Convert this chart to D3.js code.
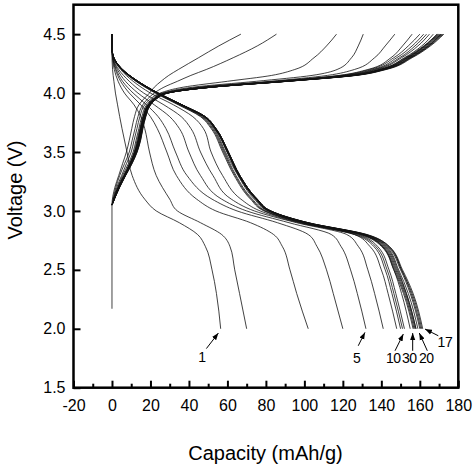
<!DOCTYPE html>
<html>
<head>
<meta charset="utf-8">
<script src="https://cdn.jsdelivr.net/npm/d3@7"></script>
<style>
  body { margin: 0; background: #fff; }
  text { font-family: Arial, "Liberation Sans", sans-serif; fill: #000; }
</style>
</head>
<body>
<svg id="chart" width="474" height="467"></svg>
<script>
// discharge: capacity (mAh/g) read at each voltage level, one row per cycle
var dischargeVoltage = [4.5, 4.35, 4.2, 4.1, 4.0, 3.9, 3.8, 3.7, 3.5, 3.3, 3.1, 3.0, 2.9, 2.8, 2.7, 2.5, 2.3, 2.0];
var dischargeCycles = [1, 2, 3, 4, 5, 6, 7, 8, 9, 10, 12, 14, 16, 17, 18, 20, 22, 24, 26, 28, 30];
var dischargeCapacity = [
  [0, 0, 0.3, 1.0, 1.8, 2.9, 4.0, 5.2, 7.8, 10.5, 17, 23, 35, 44.5, 48.5, 52, 54.3, 56.5],
  [0, 0.1, 1.2, 3.2, 6.5, 11.5, 15, 17, 19.5, 23, 30, 34, 46, 57, 61.3, 63.8, 66.3, 70],
  [0, 0.1, 1.8, 4.5, 9, 15, 20, 23.5, 28.5, 33.5, 44, 54, 72, 84, 88.5, 92.5, 96, 102],
  [0, 0.1, 2.2, 5.5, 11, 18, 24, 28, 33, 39, 52, 65, 86, 102, 106.5, 111.5, 115, 120],
  [0, 0.1, 2.8, 7, 13.5, 22, 30, 35, 40, 46, 57, 70, 92, 114, 119, 124, 127.5, 132],
  [0, 0.1, 3.5, 9, 16.5, 27, 36, 41, 46, 52.5, 62, 74, 96, 122, 128, 133, 136.5, 141],
  [0, 0.2, 4.5, 11, 20, 32, 42, 47.5, 51.5, 57.5, 67, 77, 97, 126, 134, 140, 143.5, 148],
  [0, 0.2, 5, 12.5, 22.5, 34.5, 46, 51.5, 57.5, 63.5, 72, 79, 98, 126, 136, 142, 145.5, 150],
  [0, 0.2, 5, 12.5, 23, 35, 46.5, 52, 58, 64, 72.5, 79.5, 98.5, 127, 137, 143, 146.5, 151],
  [0, 0.2, 5, 13, 23, 35.5, 47, 52.5, 58.5, 64.5, 73, 80, 99, 128, 138, 144, 147.5, 152],
  [0, 0.2, 5.2, 13, 23.5, 36, 47.5, 53, 59, 65.5, 74, 81, 100, 130, 140.5, 146.5, 150.5, 155],
  [0, 0.2, 5.3, 13.3, 23.8, 36.3, 48, 53.5, 60, 66, 75, 82, 101, 131, 142, 148.5, 153, 158],
  [0, 0.2, 5.5, 13.5, 24, 36.5, 48.5, 54, 60.5, 66.5, 75.5, 82.5, 102, 132, 143.5, 150.5, 155.5, 160.5],
  [0, 0.2, 5.5, 13.5, 24, 36.5, 48.5, 54, 60.5, 66.5, 75.5, 82.5, 102, 132.5, 144, 151, 156.5, 161.5],
  [0, 0.2, 5.5, 13.5, 24, 36.5, 48.5, 54, 60.5, 66.5, 75.5, 82.5, 102, 132, 144, 150.5, 156, 161],
  [0, 0.2, 5.5, 13.5, 24, 36.5, 48.5, 54, 60.5, 66.5, 75.5, 82.5, 101.5, 131.5, 143, 150, 155, 160],
  [0, 0.2, 5.5, 13.5, 24, 36.3, 48.3, 53.8, 60.3, 66.3, 75.3, 82.3, 101.3, 131, 142.5, 149, 154, 159],
  [0, 0.2, 5.4, 13.4, 23.8, 36.2, 48.2, 53.7, 60.2, 66.2, 75, 82, 101, 130.5, 141.5, 148, 153, 158],
  [0, 0.2, 5.4, 13.4, 23.8, 36, 48, 53.5, 60, 66, 75, 81.8, 100.8, 130, 141, 147.5, 152.5, 157.5],
  [0, 0.2, 5.3, 13.3, 23.7, 36, 48, 53.5, 60, 66, 74.8, 81.5, 100.5, 129.5, 140.5, 147, 152, 157],
  [0, 0.2, 5.3, 13.3, 23.7, 36, 48, 53.5, 59.8, 65.8, 74.5, 81.3, 100.3, 129, 140, 146.5, 151.5, 156.5]
];

// charge: capacity read at each voltage level (null = curve does not reach that level)
var chargeVoltage = [2.17, 3.05, 3.2, 3.3, 3.4, 3.5, 3.6, 3.7, 3.8, 3.9, 3.95, 4.0, 4.05, 4.1, 4.15, 4.2, 4.3, 4.4, 4.5];
var chargeCycles = [1, 2, 3, 4, 5, 6, 7, 8, 9, 10, 12, 14, 16, 17, 18, 20, 22, 24, 26, 28, 30];
var chargeCapacity = [
  [0, 0, 1.5, 3.5, 5.5, 7.5, 9, 10.3, 11.7, 14, 16.5, 19.5, 22, 25.5, 29.5, 34.5, 45, 55.5, 67],
  [null, 0, 2, 4, 6.5, 9, 10.5, 12, 13.5, 16, 18.5, 22, 27, 34, 41, 49, 63, 75.5, 85.5],
  [null, 0, 2.5, 5, 7.5, 10, 11.5, 13, 14.5, 17, 20, 25, 37, 60, 83, 95, 105, 111.5, 116.7],
  [null, 0, 3, 5.5, 8.5, 11, 12.5, 14, 15.5, 18, 21, 26, 42, 75, 104, 117, 124.5, 128, 130.6],
  [null, 0, 3, 6, 9, 11.5, 13, 14.5, 16, 18.5, 21.5, 27, 45, 82, 112, 126, 136.5, 142, 147],
  [null, 0, 3.5, 6.5, 9.5, 12, 13.5, 15, 16.5, 19, 22, 27.5, 47, 85, 118, 133, 145, 151, 156],
  [null, 0, 3.3, 6.3, 9.3, 11.8, 13.5, 14.8, 16.3, 18.8, 21.8, 27.5, 48, 86, 119, 134, 146.5, 154, 160],
  [null, 0, 3.4, 6.4, 9.4, 11.9, 13.6, 14.9, 16.4, 18.9, 21.9, 27.8, 49, 87, 120.5, 135.5, 148, 156, 162],
  [null, 0, 3.4, 6.4, 9.4, 11.9, 13.7, 15, 16.5, 19, 22, 28, 49.5, 88, 121.5, 136.5, 149.5, 157.5, 163.5],
  [null, 0, 3.5, 6.5, 9.5, 12, 13.8, 15, 16.5, 19, 22, 28, 50, 88.5, 122.5, 137.5, 150.5, 159, 165],
  [null, 0, 3.5, 6.5, 9.6, 12.2, 14, 15.2, 16.7, 19.2, 22.2, 28.2, 50.5, 89.5, 124, 139, 152, 161, 167],
  [null, 0, 3.6, 6.6, 9.7, 12.3, 14.1, 15.3, 16.8, 19.3, 22.3, 28.3, 51, 90, 125, 140, 153.5, 162.5, 169],
  [null, 0, 3.6, 6.7, 9.8, 12.4, 14.2, 15.4, 16.9, 19.4, 22.4, 28.5, 51.5, 91, 126, 141.5, 155, 164.5, 171],
  [null, 0, 3.7, 6.8, 9.9, 12.5, 14.3, 15.5, 17, 19.5, 22.5, 28.6, 52, 91.5, 127, 142.5, 156, 165.5, 172.5],
  [null, 0, 3.7, 6.8, 9.9, 12.5, 14.3, 15.5, 17, 19.5, 22.5, 28.5, 51.5, 91, 126.5, 142, 155.5, 165, 172],
  [null, 0, 3.7, 6.8, 9.9, 12.6, 14.4, 15.6, 17.1, 19.6, 22.6, 28.6, 51.5, 91, 126, 141.5, 155, 164.5, 171.5],
  [null, 0, 3.8, 6.9, 10, 12.7, 14.5, 15.7, 17.2, 19.7, 22.7, 28.7, 51.5, 90.5, 125.5, 141, 154.5, 164, 171],
  [null, 0, 3.8, 6.9, 10.1, 12.8, 14.6, 15.8, 17.3, 19.8, 22.8, 28.8, 51.5, 90.5, 125.5, 140.5, 154, 163.5, 170.5],
  [null, 0, 3.9, 7, 10.2, 12.9, 14.7, 15.9, 17.4, 19.9, 22.9, 28.9, 51.5, 90, 125, 140, 153.5, 163, 170],
  [null, 0, 3.9, 7, 10.3, 13, 14.8, 16, 17.5, 20, 23, 29, 51.5, 90, 124.5, 139.5, 153, 162.5, 169.5],
  [null, 0, 4, 7.1, 10.4, 13.1, 14.9, 16.1, 17.6, 20.1, 23.1, 29, 51.5, 89.5, 124, 139, 152.5, 162, 169]
];

var xTicks = [-20, 0, 20, 40, 60, 80, 100, 120, 140, 160, 180];
var xMinorTicks = [-10, 10, 30, 50, 70, 90, 110, 130, 150, 170];
var yTicks = [1.5, 2.0, 2.5, 3.0, 3.5, 4.0, 4.5];
var labelledCycles = [1, 5, 10, 30, 20, 17];

// label placement relative to the end of each labelled discharge curve (px)
var labelLayout = {
  1:  { tip: [-2.3, 4.3],  tail: [-14.3, 19.8], text: [-18.8, 33.3] },
  5:  { tip: [-1, 3.6],    tail: [-7.7, 17],    text: [-9.3, 34.3] },
  10: { tip: [-1.1, 5.3],  tail: [-9.4, 22],    text: [-11.1, 34.3] },
  30: { tip: [-0.4, 4.3],  tail: [-0.4, 22],    text: [-3.8, 34.3] },
  20: { tip: [-0.5, 4.3],  tail: [7.5, 22],     text: [6.5, 34.3] },
  17: { tip: [2.3, 0.3],   tail: [15.6, 7],     text: [22.3, 18.3] }
};

var svg = d3.select('#chart');

var x = d3.scaleLinear().domain([-20, 180]).range([73.5, 458.3]);
var y = d3.scaleLinear().domain([1.5, 4.75]).range([387.7, 4.7]);

var line = d3.line()
    .defined(function(d) { return d[0] != null; })
    .x(function(d) { return x(d[0]); })
    .y(function(d) { return y(d[1]); })
    .curve(d3.curveMonotoneY);

var curves = svg.append('g')
    .attr('fill', 'none')
    .attr('stroke', '#111')
    .attr('stroke-width', 0.8);

dischargeCapacity.forEach(function(row) {
  var pts = row.map(function(c, i) { return [c, dischargeVoltage[i]]; });
  curves.append('path').attr('d', line(pts));
});

chargeCapacity.forEach(function(row) {
  var pts = row.map(function(c, i) { return [c, chargeVoltage[i]]; });
  curves.append('path').attr('d', line(pts));
});

// axes (plain hyphen for negative ticks, as in the original)
svg.append('g')
    .attr('transform', 'translate(0,' + y(1.5) + ')')
    .call(d3.axisBottom(x).tickValues(xTicks).tickSizeInner(-7).tickSizeOuter(0).tickPadding(12)
      .tickFormat(function(d) { return String(d); }));

svg.append('g')
    .attr('transform', 'translate(0,' + y(1.5) + ')')
    .call(d3.axisBottom(x).tickValues(xMinorTicks).tickSizeInner(-4).tickSizeOuter(0).tickFormat(''));

svg.append('g')
    .attr('transform', 'translate(' + x(-20) + ',0)')
    .call(d3.axisLeft(y).tickValues(yTicks).tickSizeInner(-7).tickSizeOuter(0).tickPadding(8)
      .tickFormat(d3.format('.1f')));

svg.selectAll('.domain').remove();
svg.selectAll('.tick line').attr('stroke', '#000').attr('stroke-width', 2);
svg.selectAll('.tick text').style('font-size', '16px').attr('fill', '#000');

// frame
svg.append('rect')
    .attr('x', x(-20))
    .attr('y', y(4.75))
    .attr('width', x(180) - x(-20))
    .attr('height', y(1.5) - y(4.75))
    .attr('fill', 'none')
    .attr('stroke', '#000')
    .attr('stroke-width', 2.5);

// axis titles
svg.append('text')
    .attr('x', 265.5)
    .attr('y', 460)
    .attr('text-anchor', 'middle')
    .style('font-size', '20px')
    .text('Capacity (mAh/g)');

svg.append('text')
    .attr('transform', 'translate(22,190) rotate(-90)')
    .attr('text-anchor', 'middle')
    .style('font-size', '20px')
    .text('Voltage (V)');

// cycle labels with arrows
svg.append('defs').append('marker')
    .attr('id', 'arrow')
    .attr('viewBox', '0 -3 7 6')
    .attr('refX', 7)
    .attr('refY', 0)
    .attr('markerUnits', 'userSpaceOnUse')
    .attr('markerWidth', 7)
    .attr('markerHeight', 6)
    .attr('orient', 'auto')
    .append('path')
    .attr('d', 'M0,-2.6L7,0L0,2.6Z')
    .attr('fill', '#000');

var labels = svg.append('g');

labelledCycles.forEach(function(cycle) {
  var row = dischargeCapacity[dischargeCycles.indexOf(cycle)];
  var ex = x(row[row.length - 1]);
  var ey = y(dischargeVoltage[dischargeVoltage.length - 1]);
  var lay = labelLayout[cycle];

  labels.append('line')
      .attr('x1', ex + lay.tail[0])
      .attr('y1', ey + lay.tail[1])
      .attr('x2', ex + lay.tip[0])
      .attr('y2', ey + lay.tip[1])
      .attr('stroke', '#000')
      .attr('stroke-width', 1)
      .attr('marker-end', 'url(#arrow)');

  labels.append('text')
      .attr('x', ex + lay.text[0])
      .attr('y', ey + lay.text[1])
      .attr('text-anchor', 'middle')
      .style('font-size', '14px')
      .style('letter-spacing', '-0.4px')
      .text(cycle);
});
</script>
</body>
</html>
